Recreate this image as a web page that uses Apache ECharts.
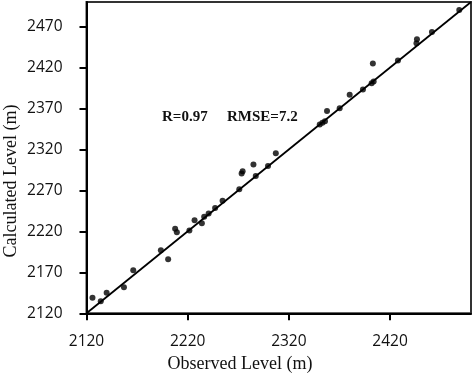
<!DOCTYPE html>
<html>
<head>
<meta charset="utf-8">
<script src="https://cdn.jsdelivr.net/npm/echarts@6/dist/echarts.min.js"></script>
<style>
html,body{margin:0;padding:0;background:#fff;}
#c{width:474px;height:374px;}
</style>
</head>
<body>
<div id="c"></div>
<script>
var observed = [2125.9,2134.1,2139.9,2157.0,2166.2,2193.5,2200.7,2207.6,2209.3,2221.7,2226.8,2234.0,2236.3,2240.7,2247.1,2254.5,2271.0,2273.3,2274.3,2285.0,2287.3,2299.4,2307.1,2350.5,2353.2,2355.7,2357.7,2370.2,2380.1,2393.2,2401.8,2403.8,2403.0,2427.8,2446.6,2446.1,2461.4,2488.4];
var calculated = [2139.0,2134.6,2145.1,2151.7,2172.7,2196.9,2186.1,2223.1,2219.0,2221.1,2233.7,2229.8,2237.9,2241.9,2248.6,2257.4,2271.4,2290.5,2293.3,2301.5,2287.6,2299.8,2315.5,2350.6,2352.7,2354.3,2367.0,2370.3,2386.8,2393.2,2400.9,2403.0,2424.9,2428.6,2454.5,2449.6,2463.3,2490.3];
var xTicks = [2120,2220,2320,2420];
var yTicks = [2120,2170,2220,2270,2320,2370,2420,2470];
var lineX = [2120,2500];
var lineY = [2120,2500];
var statsR = 'R=0.97';
var statsRMSE = 'RMSE=7.2';
var xTitle = 'Observed Level (m)';
var yTitle = 'Calculated Level (m)';

var pts = observed.map(function(v,i){return [v, calculated[i]];});
var linePts = lineX.map(function(v,i){return [v, lineY[i]];});
function plain(v){return String(v);}

var chart = echarts.init(document.getElementById('c'), null, {renderer:'canvas'});
chart.setOption({
  animation:false,
  backgroundColor:'#fff',
  grid:{left:86.5, right:3, top:2, bottom:60.7, show:true, borderColor:'#333', borderWidth:2, backgroundColor:'transparent'},
  xAxis:{
    type:'value', min:2120, max:2500,
    splitLine:{show:false},
    axisLine:{show:true, lineStyle:{color:'#000', width:2}},
    axisTick:{show:true, inside:false, length:7, lineStyle:{color:'#000', width:2}, customValues:xTicks},
    axisLabel:{customValues:xTicks, formatter:plain, margin:20, color:'#111', fontFamily:'Open Sans', fontSize:15.5}
  },
  yAxis:{
    type:'value', min:2120, max:2500,
    splitLine:{show:false},
    axisLine:{show:true, lineStyle:{color:'#000', width:2}},
    axisTick:{show:true, inside:false, length:7, lineStyle:{color:'#000', width:2}, customValues:yTicks},
    axisLabel:{customValues:yTicks, formatter:plain, margin:24, color:'#111', fontFamily:'Open Sans', fontSize:15.5}
  },
  graphic:[
    {type:'text', style:{text:xTitle, x:240, y:364, textAlign:'center', textVerticalAlign:'middle', font:'18px "Liberation Serif"', fill:'#111'}},
    {type:'text', x:11, y:181, rotation:Math.PI/2, style:{text:yTitle, x:0, y:0, textAlign:'center', textVerticalAlign:'middle', font:'18px "Liberation Serif"', fill:'#111'}},
    {type:'text', style:{text:statsR, x:162, y:117, textAlign:'left', textVerticalAlign:'middle', font:'bold 15px "Liberation Serif"', fill:'#111'}},
    {type:'text', style:{text:statsRMSE, x:227, y:117, textAlign:'left', textVerticalAlign:'middle', font:'bold 15px "Liberation Serif"', fill:'#111'}}
  ],
  series:[
    {type:'line', data:linePts, symbol:'none', lineStyle:{color:'#000', width:1.8}, z:2},
    {type:'scatter', data:pts, symbol:'circle', symbolSize:6, itemStyle:{color:'#000'}, z:3}
  ]
});
</script>
</body>
</html>
